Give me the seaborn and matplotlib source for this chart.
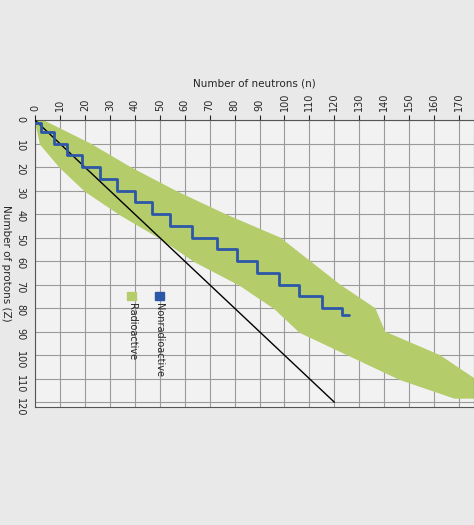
import seaborn as sns
import pandas as pd
import matplotlib.pyplot as plt

# band of stability
band_z = [0, 10, 20, 30, 40, 50, 60, 70, 80, 90, 100, 110, 118]
band_nmin = [0, 2, 10, 20, 34, 50, 64, 82, 96, 106, 126, 146, 168]
band_nmax = [3, 22, 38, 56, 76, 98, 110, 122, 136, 140, 162, 176, 178]

stable_z = [1, 5, 10, 15, 20, 25, 30, 35, 40, 45, 50, 55, 60, 65, 70, 75, 80, 83]
stable_n = [0, 5, 10, 16, 22, 30, 36, 44, 50, 58, 68, 78, 84, 94, 102, 110, 120, 126]

sns.set_style("white")
fig = plt.figure(figsize=(4.74, 5.25), dpi=100)
fig.patch.set_facecolor("#e9e9e9")
ax = fig.add_axes([0.074, 0.225, 0.926, 0.546])
ax.set_facecolor("#f2f2f2")

ax.fill_betweenx(band_z, band_nmin, band_nmax, color="#b5cc6a", zorder=2)
line = pd.DataFrame({"n": [0, 120], "z": [0, 120]})
sns.lineplot(data=line, x="n", y="z", color="black", lw=1, ax=ax, zorder=3)
stable = pd.DataFrame({"n": stable_n, "z": stable_z})
sns.lineplot(data=stable, x="n", y="z", color="#2d57a8", lw=2, drawstyle="steps-mid",
             ax=ax, zorder=4)

ax.set_xlim(0, 176)
ax.set_ylim(122, 0)
ax.set_xticks(range(0, 180, 10))
ax.set_yticks(range(0, 130, 10))
ax.xaxis.tick_top()
ax.xaxis.set_label_position("top")
ax.grid(True, color="#9a9a9a", lw=0.8, zorder=1)
ax.tick_params(axis="x", labelrotation=90, labelsize=7)
ax.tick_params(axis="y", labelrotation=-90, labelsize=7)
ax.set_xlabel("Number of neutrons (n)", fontsize=7.5)
ax.set_ylabel("Number of protons (Z)", fontsize=7.5, rotation=-90, labelpad=10)
for s in ax.spines.values():
    s.set_color("#555555")

# legend, rotated like the photo
ax.add_patch(plt.Rectangle((48, 73), 3.5, 3.5, color="#2d57a8", zorder=5))
ax.add_patch(plt.Rectangle((37, 73), 3.5, 3.5, color="#b5cc6a", zorder=5))
ax.text(49.8, 78, "Nonradioactive", rotation=-90, fontsize=7, va="top", ha="center")
ax.text(38.8, 78, "Radioactive", rotation=-90, fontsize=7, va="top", ha="center")

fig.savefig("out.png")
